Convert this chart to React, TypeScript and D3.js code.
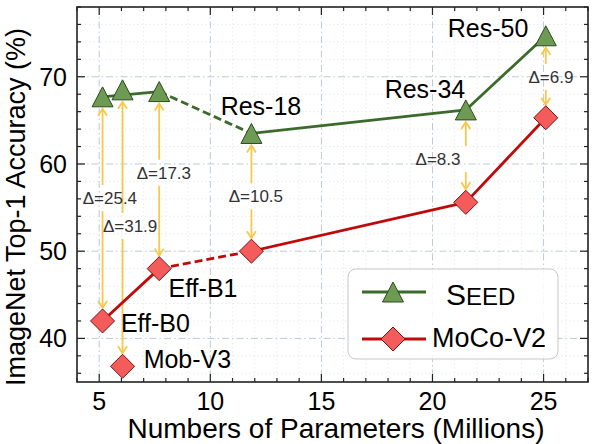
import React from 'react';
import * as d3 from 'd3';

// backbone models, params (M) and top-1 accuracy
const models = ['Eff-B0', 'Mob-V3', 'Eff-B1', 'Res-18', 'Res-34', 'Res-50'];
const params = [5.15, 6.05, 7.7, 11.85, 21.5, 25.1];
const seedAcc = [67.7, 68.5, 68.3, 63.5, 66.2, 74.7];
const mocoAcc = [42.0, 36.8, 48.0, 50.0, 55.6, 65.3];
const deltas = ['Δ=25.4', 'Δ=31.9', 'Δ=17.3', 'Δ=10.5', 'Δ=8.3', 'Δ=6.9'];
const xTicks = [5, 10, 15, 20, 25];
const yTicks = [40, 50, 60, 70];

// which points are joined, and whether the joint is dashed
const segments: [number, number, boolean][] = [
  [0, 2, false],
  [2, 3, true],
  [3, 4, false],
  [4, 5, false],
];

// annotation placement in data units (x, baseline y)
const deltaPos = [[5.48, 55.4], [6.39, 52.2], [7.91, 58.3], [12.05, 55.6], [20.25, 59.9], [25.33, 69.3]];
const namePos = [[7.53, 40.7], [8.97, 36.6], [9.67, 44.75], [12.28, 65.6], [19.66, 67.55], [22.5, 74.6]];

const W = 595;
const H = 444;
const m = { left: 77, right: 588, top: 7, bottom: 382 };
const FONT = '"Liberation Sans", Arial, sans-serif';

const seedLine = '#3b6a2a';
const seedFill = '#6d9b53';
const seedEdge = '#2c4a1c';
const mocoLine = '#c00a0a';
const mocoFill = '#f45b5b';
const mocoEdge = '#7a1212';
const arrowCol = '#f8c84a';

const tri = (cx: number, cy: number) =>
  `M${cx},${cy - 10} L${cx + 10.5},${cy + 10} L${cx - 10.5},${cy + 10} Z`;
const dia = (cx: number, cy: number) =>
  `M${cx},${cy - 12} L${cx + 12},${cy} L${cx},${cy + 12} L${cx - 12},${cy} Z`;

export default function App() {
  const x = d3.scaleLinear().domain([4, 27]).range([m.left, m.right]);
  const y = d3.scaleLinear().domain([35, 78]).range([m.bottom, m.top]);

  const xMinor = d3.range(4, 28, 1).filter(v => !xTicks.includes(v));
  const yMinor = d3.range(36, 79, 2).filter(v => !yTicks.includes(v));

  const head = (cx: number, cy: number, dir: number) =>
    `M${cx - 4.5},${cy + 7 * dir} L${cx},${cy} L${cx + 4.5},${cy + 7 * dir}`;

  const arrows = params.map((p, i) => {
    const ax = x(p);
    const top = y(seedAcc[i]) + 12;
    const bot = y(mocoAcc[i]) - 13;
    const lx = x(deltaPos[i][0]);
    const lb = y(deltaPos[i][1]);
    const split = Math.abs(lx - ax) < 28;
    const parts = split
      ? [[top, lb - 19], [lb + 7, bot]]
      : [[top, bot]];
    return (
      <g key={'a' + i} stroke={arrowCol} strokeWidth={1.8} fill="none">
        {parts.map(([a, b], k) => (
          <line key={k} x1={ax} x2={ax} y1={a} y2={b} />
        ))}
        <path d={head(ax, top, 1)} />
        <path d={head(ax, bot, -1)} />
      </g>
    );
  });

  const seriesLines = (acc: number[], color: string) =>
    segments.map(([a, b, dashed], k) => (
      <path
        key={k}
        d={d3.line<number>().x(i => x(params[i])).y(i => y(acc[i]))([a, b]) || ''}
        stroke={color}
        strokeWidth={2.8}
        fill="none"
        strokeDasharray={dashed ? '8,4' : undefined}
      />
    ));

  return (
    <svg width={W} height={H} style={{ position: 'absolute', left: 0, top: 0, background: '#fff' }} fontFamily={FONT}>
      {/* minor grid */}
      <g stroke="#e2e7ee" strokeWidth={0.8} strokeDasharray="1.5,2.5">
        {xMinor.map(v => <line key={'gx' + v} x1={x(v)} x2={x(v)} y1={m.top} y2={m.bottom} />)}
        {yMinor.map(v => <line key={'gy' + v} x1={m.left} x2={m.right} y1={y(v)} y2={y(v)} />)}
      </g>
      {/* major grid */}
      <g stroke="#bccadb" strokeWidth={1} strokeDasharray="7,3,1.5,3">
        {xTicks.map(v => <line key={'Gx' + v} x1={x(v)} x2={x(v)} y1={m.top} y2={m.bottom} />)}
        {yTicks.map(v => <line key={'Gy' + v} x1={m.left} x2={m.right} y1={y(v)} y2={y(v)} />)}
      </g>

      {arrows}

      {seriesLines(seedAcc, seedLine)}
      {seriesLines(mocoAcc, mocoLine)}

      {params.map((p, i) => (
        <path key={'s' + i} d={tri(x(p), y(seedAcc[i]))} fill={seedFill} stroke={seedEdge} strokeWidth={1} />
      ))}
      {params.map((p, i) => (
        <path key={'m' + i} d={dia(x(p), y(mocoAcc[i]))} fill={mocoFill} stroke={mocoEdge} strokeWidth={1} />
      ))}

      {deltas.map((t, i) => (
        <text key={'d' + i} x={x(deltaPos[i][0])} y={y(deltaPos[i][1])} fontSize={17} fill="#333" textAnchor="middle">
          {t}
        </text>
      ))}
      {models.map((t, i) => (
        <text key={'n' + i} x={x(namePos[i][0])} y={y(namePos[i][1])} fontSize={25} fill="#000" textAnchor="middle">
          {t}
        </text>
      ))}

      {/* ticks on all four sides, pointing inward */}
      <g stroke="#222" strokeWidth={1.2}>
        {xTicks.map(v => (
          <g key={'tx' + v}>
            <line x1={x(v)} x2={x(v)} y1={m.bottom} y2={m.bottom - 8} />
            <line x1={x(v)} x2={x(v)} y1={m.top} y2={m.top + 8} />
          </g>
        ))}
        {xMinor.map(v => (
          <g key={'tmx' + v}>
            <line x1={x(v)} x2={x(v)} y1={m.bottom} y2={m.bottom - 4} />
            <line x1={x(v)} x2={x(v)} y1={m.top} y2={m.top + 4} />
          </g>
        ))}
        {yTicks.map(v => (
          <g key={'ty' + v}>
            <line x1={m.left} x2={m.left + 8} y1={y(v)} y2={y(v)} />
            <line x1={m.right} x2={m.right - 8} y1={y(v)} y2={y(v)} />
          </g>
        ))}
        {yMinor.map(v => (
          <g key={'tmy' + v}>
            <line x1={m.left} x2={m.left + 4} y1={y(v)} y2={y(v)} />
            <line x1={m.right} x2={m.right - 4} y1={y(v)} y2={y(v)} />
          </g>
        ))}
      </g>
      <rect x={m.left} y={m.top} width={m.right - m.left} height={m.bottom - m.top} fill="none" stroke="#222" strokeWidth={1.6} />

      {xTicks.map(v => (
        <text key={'lx' + v} x={x(v)} y={410} fontSize={25} textAnchor="middle">{v}</text>
      ))}
      {yTicks.map(v => (
        <text key={'ly' + v} x={67} y={y(v) + 9} fontSize={25} textAnchor="end">{v}</text>
      ))}

      <text x={336} y={438} fontSize={28} textAnchor="middle">Numbers of Parameters (Millions)</text>
      <text transform="translate(25,207) rotate(-90)" fontSize={27} textAnchor="middle">ImageNet Top-1 Accuracy (%)</text>

      {/* legend */}
      <g>
        <rect x={348} y={269} width={210} height={90} rx={8} fill="#fff" fillOpacity={0.85} stroke="#c8c8c8" strokeWidth={1} />
        <line x1={362} x2={426} y1={292} y2={292} stroke={seedLine} strokeWidth={2.8} />
        <path d={tri(393, 292)} fill={seedFill} stroke={seedEdge} strokeWidth={1} />
        <text x={446} y={305}>
          <tspan fontSize={30}>S</tspan>
          <tspan fontSize={24}>EED</tspan>
        </text>
        <line x1={362} x2={426} y1={339} y2={339} stroke={mocoLine} strokeWidth={2.8} />
        <path d={dia(393, 339)} fill={mocoFill} stroke={mocoEdge} strokeWidth={1} />
        <text x={432} y={347} fontSize={27}>MoCo-V2</text>
      </g>
    </svg>
  );
}
